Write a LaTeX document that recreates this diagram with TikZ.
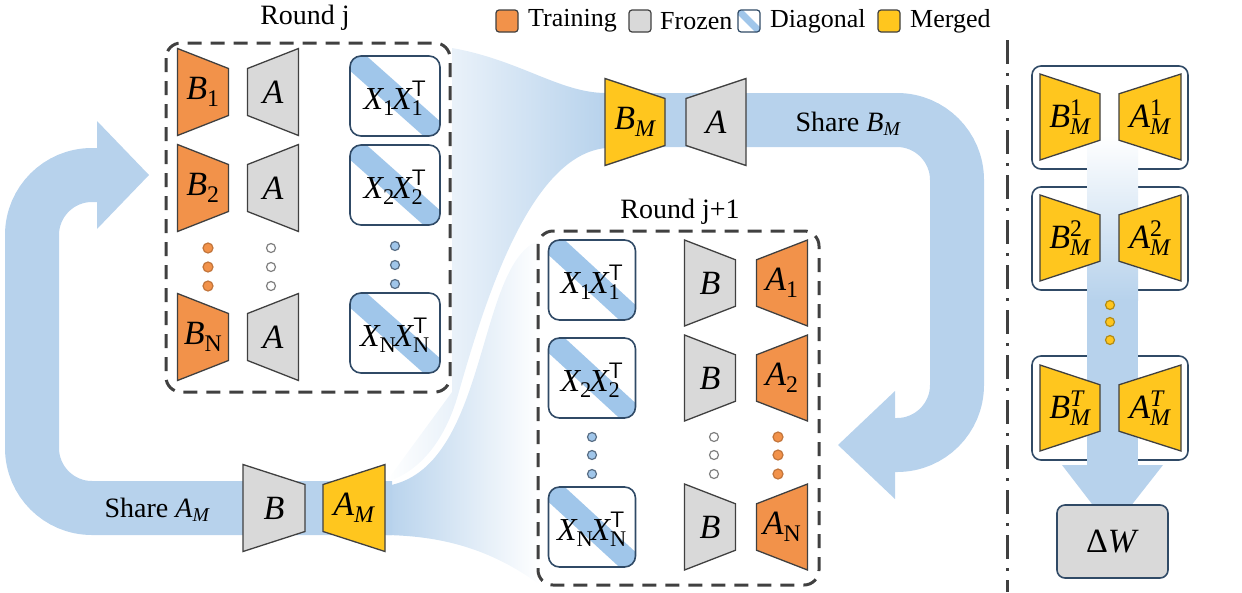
\documentclass[tikz,border=0pt]{standalone}
\usepackage{amsmath}
\usepackage{fontspec}
\setmainfont{Liberation Serif}
\usetikzlibrary{shapes.geometric}
\definecolor{bandc}{RGB}{183,210,236}
\definecolor{stripe}{RGB}{160,198,234}
\definecolor{orng}{RGB}{242,146,74}
\definecolor{gry}{RGB}{217,217,217}
\definecolor{ylw}{RGB}{255,198,30}
\definecolor{edge}{RGB}{64,64,64}
\definecolor{bedge}{RGB}{48,74,102}
\tikzset{
  band/.style={draw=bandc,line width=54pt},
  trapline/.style={draw=edge,line width=1.3pt},
  lbl/.style={font=\fontsize{34}{36}\selectfont,inner sep=0pt},
  txt/.style={font=\fontsize{28}{30}\selectfont,inner sep=0pt},
  leg/.style={font=\fontsize{26}{28}\selectfont,inner sep=0pt,anchor=west},
  lsq/.style={draw=edge,rounded corners=3pt,minimum size=22pt,line width=1.2pt},
  dbox/.style={draw=edge,line width=3pt,dash pattern=on 14pt off 9pt,rounded corners=15pt},
  xbox/.style={draw=bedge,line width=1.6pt,rounded corners=11pt},
  pbox/.style={draw=bedge,line width=1.6pt,rounded corners=9pt,fill=white},
  dotf/.style={circle,inner sep=0pt,minimum size=10pt,line width=1.2pt},
}
% left side tall
\newcommand\trapL[7]{%
  \path[trapline,fill=#6] (#2-#4/2,#3-#5/2) -- (#2+#4/2,#3-#5/2+0.23*#5) -- (#2+#4/2,#3+#5/2-0.23*#5) -- (#2-#4/2,#3+#5/2) -- cycle;
  \node[lbl] (#1) at (#2,#3) {#7};}
% right side tall
\newcommand\trapR[7]{%
  \path[trapline,fill=#6] (#2+#4/2,#3-#5/2) -- (#2-#4/2,#3-#5/2+0.23*#5) -- (#2-#4/2,#3+#5/2-0.23*#5) -- (#2+#4/2,#3+#5/2) -- cycle;
  \node[lbl] (#1) at (#2,#3) {#7};}
\newcommand\xmat[6]{% name cx cy w h index
  \begin{scope}
  \clip[rounded corners=11pt] (#2-#4/2,#3-#5/2) rectangle (#2+#4/2,#3+#5/2);
  \fill[white] (#2-#4/2,#3-#5/2) rectangle (#2+#4/2,#3+#5/2);
  \draw[stripe,line width=22pt] (#2-#4/2,#3-#5/2) -- (#2+#4/2,#3+#5/2);
  \end{scope}
  \node[xbox,minimum width=#4pt,minimum height=#5pt] (#1) at (#2,#3) {};
  \node[lbl,font=\fontsize{32}{34}\selectfont] at (#2,#3+2) {$\textit{X}_{\text{#6}}\mkern-2mu\textit{X}_{\text{#6}}^{\mathsf{T}}$};}
\begin{document}
\begin{tikzpicture}[x=1pt,y=-1pt]
\useasboundingbox (0,0) rectangle (1242,592);
% gradient regions
\shade[left color=white,right color=bandc] (452,48) .. controls (520,60) and (560,93) .. (606,93) -- (606,148) .. controls (530,155) and (485,300) .. (458,395) .. controls (445,440) and (420,472) .. (386,482) -- (452,392) -- cycle;
\shade[left color=bandc,right color=white] (386,486) .. controls (490,470) and (475,262) .. (540,240) -- (540,585) .. controls (490,548) and (440,536) .. (386,535) -- cycle;
% loop bands
\draw[band,rounded corners=60pt] (392,508) -- (32,508) -- (32,175) -- (100,175);
\fill[bandc] (97,121) -- (149,175) -- (97,229) -- cycle;
\draw[band,rounded corners=60pt] (600,120) -- (957,120) -- (957,445) -- (894,445);
\fill[bandc] (895,391) -- (838,445) -- (895,499) -- cycle;
% legend
\node[lsq,fill=orng] (lt) at (507,21) {};
\node[leg] (ltt) at (528,21) {Training};
\node[lsq,fill=gry] (lf) at (640,21) {};
\node[leg] (lft) at (660,21) {Frozen};
\begin{scope}
\clip[rounded corners=3pt] (738,10) rectangle (760,32);
\draw[stripe,line width=7pt] (738,10) -- (760,32);
\end{scope}
\node[lsq,draw=bedge] (ld) at (749,21) {};
\node[leg] (ldt) at (770,21) {Diagonal};
\node[lsq,fill=ylw] (lm) at (889,21) {};
\node[leg] (lmt) at (910,21) {Merged};
% Round j
\node[txt] (rj) at (305,18) {Round j};
\draw[dbox] (166,43) rectangle (450,392);
\trapL{b1}{203}{92}{51}{87}{orng}{$\textit{B}_{\text{1}}$}
\trapR{a1}{273}{92}{51}{87}{gry}{$\textit{A}$}
\trapL{b2}{203}{188}{51}{87}{orng}{$\textit{B}_{\text{2}}$}
\trapR{a2}{273}{188}{51}{87}{gry}{$\textit{A}$}
\trapL{bn}{203}{337}{51}{87}{orng}{$\textit{B}_{\text{N}}$}
\trapR{an}{273}{337}{51}{87}{gry}{$\textit{A}$}
\xmat{x1}{395}{96}{90}{80}{1}
\xmat{x2}{395}{185}{90}{80}{2}
\xmat{xn}{395}{333}{90}{80}{N}
\foreach \y [count=\i] in {248,267,286}{
  \node[dotf,fill=orng,draw=orng!80!black] (od\i) at (208,\y) {};
  \node[dotf,draw=gray,fill=white,minimum size=9pt] (gd\i) at (271,\y) {};
  \node[dotf,draw=bedge!80,fill=stripe,minimum size=9pt] (bd\i) at (395,\y-2) {};}
% top shared pair
\trapL{bm}{635}{122}{60}{87}{ylw}{$\textit{B}_{\textit{M}}$}
\trapR{am}{716}{122}{60}{87}{gry}{$\textit{A}$}
\node[txt] (sb) at (848,124) {Share $\textit{B}_{\textit{M}}$};
% Round j+1
\node[txt] (rj1) at (680,212) {Round j+1};
\draw[dbox] (538,231) rectangle (819,585);
\xmat{y1}{592}{280}{87}{80}{1}
\xmat{y2}{592}{378}{87}{80}{2}
\xmat{yn}{592}{527}{87}{80}{N}
\trapL{c1}{710}{283}{51}{86}{gry}{$\textit{B}$}
\trapR{d1}{782}{283}{51}{86}{orng}{$\textit{A}_{\text{1}}$}
\trapL{c2}{710}{378}{51}{86}{gry}{$\textit{B}$}
\trapR{d2}{782}{378}{51}{86}{orng}{$\textit{A}_{\text{2}}$}
\trapL{cn}{710}{527}{51}{86}{gry}{$\textit{B}$}
\trapR{dn}{782}{527}{51}{86}{orng}{$\textit{A}_{\text{N}}$}
\foreach \y [count=\i] in {437,455,474}{
  \node[dotf,draw=bedge!80,fill=stripe,minimum size=9pt] (ebd\i) at (592,\y) {};
  \node[dotf,draw=gray,fill=white,minimum size=9pt] (egd\i) at (714,\y) {};
  \node[dotf,fill=orng,draw=orng!80!black] (eod\i) at (778,\y) {};}
% bottom shared pair
\trapL{bb}{274}{508}{62}{87}{gry}{$\textit{B}$}
\trapR{ab}{354}{508}{62}{87}{ylw}{$\textit{A}_{\textit{M}}$}
\node[txt] (sa) at (157,510) {Share $\textit{A}_{\textit{M}}$};
% right panel
\draw[edge,line width=3pt,dash pattern=on 24pt off 9pt on 3pt off 9pt] (1007,40) -- (1007,592);
\node[pbox,minimum width=156pt,minimum height=103pt] (p1) at (1110,117.5) {};
\node[pbox,minimum width=156pt,minimum height=103pt] (p2) at (1110,238.5) {};
\node[pbox,minimum width=156pt,minimum height=104pt] (pt) at (1110,408) {};
\shade[top color=white,bottom color=bandc] (1087,135) rectangle (1138,300);
\fill[bandc] (1087,300) rectangle (1138,466);
\fill[bandc] (1062,465) -- (1163,465) -- (1112,530) -- cycle;
\trapL{bm1}{1070}{117}{60}{86}{ylw}{$\textit{B}_{\textit{M}}^{\text{1}}$}
\trapR{am1}{1150}{117}{62}{86}{ylw}{$\textit{A}_{\textit{M}}^{\text{1}}$}
\trapL{bm2}{1070}{238}{60}{86}{ylw}{$\textit{B}_{\textit{M}}^{\text{2}}$}
\trapR{am2}{1150}{238}{62}{86}{ylw}{$\textit{A}_{\textit{M}}^{\text{2}}$}
\trapL{bmt}{1070}{408}{60}{86}{ylw}{$\textit{B}_{\textit{M}}^{\textit{T}}$}
\trapR{amt}{1150}{408}{62}{86}{ylw}{$\textit{A}_{\textit{M}}^{\textit{T}}$}
\foreach \y [count=\i] in {305,322,340}{
  \node[dotf,fill=ylw,draw=ylw!70!black,minimum size=9pt] (yd\i) at (1110,\y) {};}
\node[draw=bedge,fill=gry,rounded corners=8pt,line width=1.6pt,minimum width=111pt,minimum height=73pt,lbl] (dw) at (1112.5,541.5) {Δ\textit{W}};
\end{tikzpicture}
\end{document}
